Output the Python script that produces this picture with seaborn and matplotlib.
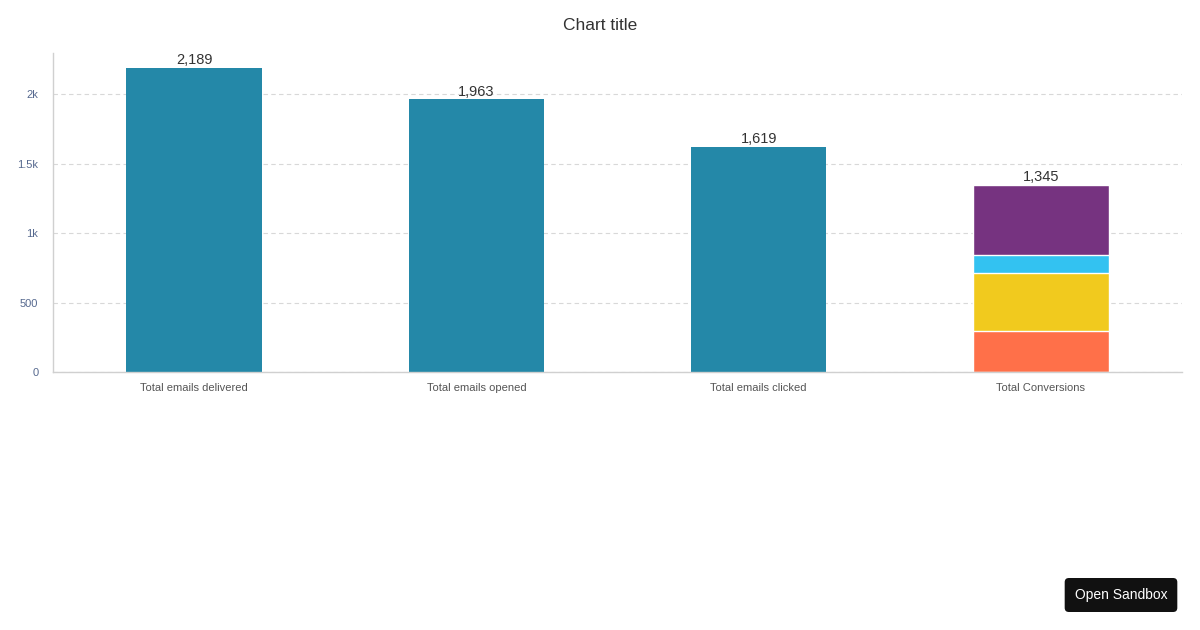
import matplotlib
matplotlib.use("Agg")
import matplotlib.pyplot as plt
import seaborn as sns
import pandas as pd
import numpy as np
from matplotlib.ticker import FuncFormatter

categories = ["Total emails delivered", "Total emails opened", "Total emails clicked", "Total Conversions"]
totals = [2189, 1963, 1619, 1345]
# Conversion breakdown (bottom to top)
conv_segments = ["Segment A", "Segment B", "Segment C", "Segment D"]
conv_values = [293, 417, 130, 505]
conv_colors = ["#ff7049", "#f1ca1e", "#33c2f1", "#763380"]
teal = "#2488a8"

sns.set_theme(style="white")
plt.rcParams["font.family"] = ["Liberation Sans", "DejaVu Sans"]

fig = plt.figure(figsize=(12, 6.3), dpi=100)
ax = fig.add_axes([53/1200, 1 - 372/630, (1182 - 53)/1200, (372 - 53)/630])

# Cumulative layers for stacked conversions bar
cum = np.cumsum(conv_values)
df_total = pd.DataFrame({"category": categories, "value": totals})
pal_total = {c: teal for c in categories[:3]}
pal_total[categories[3]] = conv_colors[3]
sns.barplot(data=df_total, x="category", y="value", hue="category", palette=pal_total,
            order=categories, width=0.48, ax=ax, legend=False, edgecolor="none", saturation=1)
total_containers = list(ax.containers)
# white separator edge on the conversions bar
for p in total_containers[3].patches:
    p.set_edgecolor("white")
    p.set_linewidth(1.0)

for i in range(len(conv_values) - 2, -1, -1):
    df_seg = pd.DataFrame({"category": [categories[3]], "value": [cum[i]]})
    sns.barplot(data=df_seg, x="category", y="value", color=conv_colors[i], order=categories,
                width=0.48, ax=ax, edgecolor="white", linewidth=1.0, saturation=1)

# value labels
for c, cat, v in zip(total_containers, categories, totals):
    ax.bar_label(c, labels=[f"{v:,}"], padding=0.5, fontsize=10.5, color="#333333")

ax.set_ylim(0, 2296)
ax.set_yticks([0, 500, 1000, 1500, 2000])
ax.yaxis.set_major_formatter(FuncFormatter(lambda v, p: "0" if v == 0 else (f"{v/1000:g}k" if v >= 1000 else f"{int(v)}")))
ax.grid(axis="y", linestyle=(0, (4, 3)), color="#d8d8d8", linewidth=0.8)
ax.set_axisbelow(True)
ax.set_xlabel("")
ax.set_ylabel("")
for s in ["top", "right"]:
    ax.spines[s].set_visible(False)
for s in ["left", "bottom"]:
    ax.spines[s].set_color("#d0d0d0")
    ax.spines[s].set_linewidth(1)
ax.tick_params(axis="y", length=0, labelsize=8, labelcolor="#56698f", pad=10.5)
ax.tick_params(axis="x", length=0, labelsize=8, labelcolor="#555555", pad=8)
ax.set_xlim(-0.5, 3.5)

fig.text(600/1200, 1 - 26/630, "Chart title", ha="center", va="center", fontsize=12.5, color="#333333")

fig.text(1121/1200, 1 - 595/630, "Open Sandbox", ha="center", va="center", fontsize=10, color="white",
         bbox=dict(boxstyle="round,pad=0.72,rounding_size=0.3", facecolor="#111111", edgecolor="none"))

fig.savefig("out.png", dpi=100)
